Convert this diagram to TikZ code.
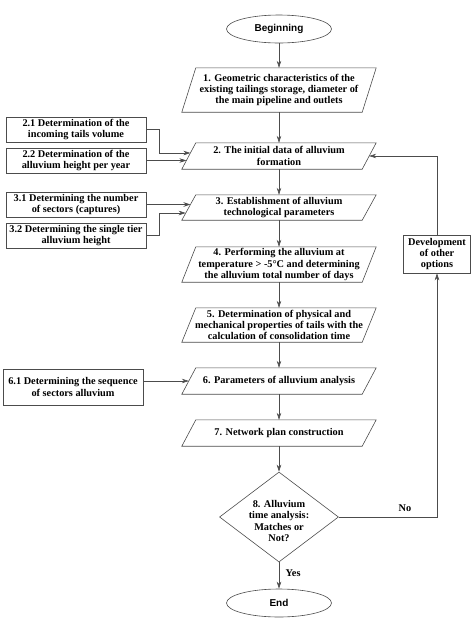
\documentclass[tikz,border=0pt]{standalone}
\usepackage{fontspec}
\setmainfont{Liberation Serif}
\newfontfamily\arialfont{Liberation Sans}
\usetikzlibrary{shapes.geometric,arrows.meta}
\begin{document}
\begin{tikzpicture}[x=1pt,y=1pt,
  line/.style={draw=black!70, line width=0.6pt},
  arr/.style={line, -{Stealth[length=7pt,width=4.5pt]}},
  txt/.style={font=\fontsize{10.3}{11.2}\selectfont\bfseries},
  para/.style={txt, minimum width=180pt, inner sep=0pt, align=center},
  sidebox/.style={txt, line, minimum width=140pt, inner sep=0pt, align=center},
  term/.style={ellipse, line, minimum width=105pt, minimum height=28pt, inner sep=0pt, font=\arialfont\bfseries\fontsize{10}{12}\selectfont}
]
\useasboundingbox (0,0) rectangle (474,-622);

\node[term] (beg) at (279,-29) {Beginning};
\node[para, minimum height=44pt] (n1) at (279,-90) {1. Geometric characteristics of the\\existing tailings storage, diameter of\\the main pipeline and outlets};
\node[para, minimum height=26pt] (n2) at (279,-156) {2. The initial data of alluvium\\formation};
\node[para, minimum height=25pt] (n3) at (279,-207.5) {3. Establishment of alluvium\\technological parameters};
\node[para, minimum height=35pt] (n4) at (279,-264.5) {4. Performing the alluvium at\\temperature > -5°C and determining\\the alluvium total number of days};
\node[para, minimum height=34pt] (n5) at (279,-325) {5. Determination of physical and\\mechanical properties of tails with the\\calculation of consolidation time};
\node[para, minimum height=26pt] (n6) at (279,-381) {6. Parameters of alluvium analysis};
\node[para, minimum height=26pt] (n7) at (279,-433) {7. Network plan construction};
\foreach \n in {n1,n2,n3,n4,n5,n6,n7}
  \draw[line] ([xshift=7pt]\n.north west) -- ([xshift=7pt]\n.north east) -- ([xshift=-7pt]\n.south east) -- ([xshift=-7pt]\n.south west) -- cycle;

\node[diamond, line, minimum width=119pt, minimum height=90pt, inner sep=0pt,
  label={[txt, align=center, yshift=-4pt]center:8. Alluvium\\time analysis:\\Matches or\\Not?}] (dia) at (279,-517) {};
\node[term] (end) at (279,-603) {End};

\node[sidebox, minimum height=25pt] (s21) at (76,-129.5) {2.1 Determination of the\\incoming tails volume};
\node[sidebox, minimum height=25pt] (s22) at (76,-160.5) {2.2 Determination of the\\alluvium height per year};
\node[sidebox, minimum height=25pt] (s31) at (76,-204.5) {3.1 Determining the number\\of sectors (captures)};
\node[sidebox, minimum height=25pt] (s32) at (76,-235.5) {3.2 Determining the single tier\\alluvium height};
\node[sidebox, minimum height=36pt] (s61) at (73,-387) {6.1 Determining the sequence\\of sectors alluvium};
\node[sidebox, minimum width=67pt, minimum height=38pt] (dev) at (437,-254) {Development\\of other\\options};

\draw[arr] (beg) -- (n1);
\draw[arr] (n1) -- (n2);
\draw[arr] (n2) -- (n3);
\draw[arr] (n3) -- (n4);
\draw[arr] (n4) -- (n5);
\draw[arr] (n5) -- (n6);
\draw[arr] (n6) -- (n7);
\draw[arr] (n7) -- (dia);
\draw[arr] (dia) -- node[txt, right=3pt, pos=0.4] (yes) {Yes} (end);

\draw[arr] (s21.east) -- ++(13,0) |- ([shift={(1.6,3)}]n2.west);
\draw[arr] (s22.east) -- ([shift={(-2.4,-4.5)}]n2.west);
\draw[arr] (s31.east) -- ([shift={(1.7,3)}]n3.west);
\draw[arr] (s32.east) -- ++(13,0) |- ([shift={(-3.1,-5.5)}]n3.west);
\draw[arr] (s61.east |- n6.west) -- (n6.west);

\draw[arr] (dia.east) -| (dev.south);
\draw[arr] (dev.north) |- (n2.east);
\node[txt] (no) at (405,-508) {No};
\end{tikzpicture}
\end{document}
